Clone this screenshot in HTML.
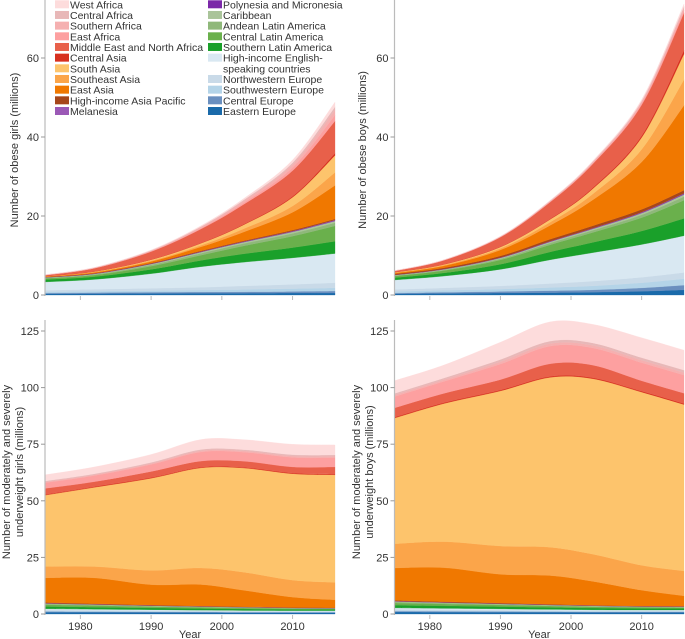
<!DOCTYPE html>
<html><head><meta charset="utf-8"><style>
html,body{margin:0;padding:0;background:#fff;}
svg{display:block;font-family:"Liberation Sans",sans-serif;}
</style></head><body>
<svg id="chart" width="685" height="639" viewBox="0 0 685 639" xmlns="http://www.w3.org/2000/svg"></svg>
<script>
const years = [1975,1982,1990,1997,2003,2010,2016];
const regions = ["Eastern Europe","Central Europe","Southwestern Europe","Northwestern Europe","High-income English-speaking countries","Southern Latin America","Central Latin America","Andean Latin America","Caribbean","Polynesia and Micronesia","Melanesia","High-income Asia Pacific","East Asia","Southeast Asia","South Asia","Central Asia","Middle East and North Africa","East Africa","Southern Africa","Central Africa","West Africa"];
const colors = ["#1a6aaa","#6a8fbf","#b4d4e8","#c9dae8","#d9e8f2","#1aa02a","#6ab04c","#8fb87a","#aac49a","#7b28a8","#9b59b6","#a6461a","#f07800","#fba54a","#fdc46c","#d7301f","#e8604a","#fda0a0","#f5b0b0","#e8b8b8","#fddcdc"];
const obeseGirls = [
[.3,.35,.4,.45,.45,.5,.5],[.2,.25,.3,.3,.35,.4,.5],[.3,.35,.4,.5,.6,.7,.8],[.4,.5,.6,.7,.9,1.1,1.3],
[2.1,2.5,3.7,5.2,6.0,6.7,7.4],[.6,.7,1.1,1.6,2.1,2.6,3.1],[.3,.4,.8,1.3,2.0,2.9,3.9],[.15,.2,.35,.5,.6,.7,.8],
[.1,.12,.2,.3,.35,.4,.45],[.02,.03,.05,.07,.08,.1,.12],[.02,.03,.04,.05,.07,.09,.12],[.1,.12,.15,.2,.2,.25,.25],
[.1,.2,.4,1.0,2.2,4.5,8.5],[.05,.1,.2,.4,.8,1.6,3.3],[.05,.1,.25,.5,1.0,2.2,4.3],[.02,.03,.05,.1,.15,.25,.5],
[.2,.8,2.0,3.5,5.0,6.5,8.2],[.03,.05,.1,.2,.4,.8,1.5],[.05,.08,.15,.3,.5,.8,1.3],[.02,.03,.06,.12,.2,.4,.8],[.03,.05,.1,.2,.35,.7,1.2]];
const obeseBoys = [
[.3,.4,.5,.6,.7,.95,1.3],[.2,.3,.4,.5,.6,.85,1.2],[.4,.5,.6,.8,1.0,1.3,1.6],[.5,.6,.8,1.0,1.2,1.4,1.6],
[2.4,3.0,4.2,6.0,7.2,8.3,9.3],[.6,.8,1.3,2.0,2.6,3.4,4.4],[.4,.6,1.1,1.8,2.5,3.4,4.6],[.15,.2,.3,.45,.55,.7,.9],
[.1,.12,.2,.3,.35,.45,.55],[.03,.04,.06,.08,.1,.12,.15],[.02,.03,.05,.07,.08,.1,.12],[.25,.3,.4,.5,.6,.7,.8],
[.2,.5,1.5,3.5,6.5,12,21.5],[.1,.2,.4,.8,1.5,3.2,6.5],[.1,.15,.35,.7,1.3,3.0,6.5],[.03,.05,.08,.15,.25,.45,.9],
[.3,1.0,2.4,4.2,6.0,7.8,9.5],[.02,.04,.06,.12,.2,.4,.7],[.03,.05,.08,.15,.25,.4,.6],[.01,.02,.04,.08,.12,.2,.35],[.02,.04,.07,.12,.2,.35,.6]];
const underGirls = [
[.8,.75,.7,.65,.6,.6,.6],[.3,.28,.25,.23,.22,.2,.2],[.3,.28,.25,.23,.22,.2,.2],[.4,.35,.3,.25,.22,.2,.2],
[.5,.45,.4,.35,.3,.3,.3],[1.0,.9,.8,.7,.65,.55,.5],[.8,.7,.55,.5,.45,.35,.3],[.4,.35,.3,.28,.25,.2,.2],
[.2,.18,.15,.13,.12,.1,.1],[.02,.02,.02,.02,.02,.02,.02],[.05,.05,.05,.05,.05,.05,.05],[.3,.25,.2,.15,.12,.1,.1],
[10.9,11.4,9.0,9.5,7.3,4.6,3.5],[5,5,6.3,7.3,8,7.5,7.7],[31.5,35,40.7,44.2,46,47,47.5],[.3,.3,.3,.3,.3,.3,.3],
[2.7,2.2,2.7,2.7,2.7,2.7,3.2],[2.5,2.7,3.1,4.0,4.0,4.2,4.1],[.4,.4,.45,.55,.55,.6,.6],[.4,.4,.45,.55,.55,.6,.6],[2.7,3.0,3.5,4.4,4.4,4.6,4.4]];
const underBoys = [
[.9,.85,.8,.75,.7,.7,.7],[.35,.33,.3,.28,.26,.25,.25],[.35,.33,.3,.28,.26,.25,.25],[.5,.42,.36,.3,.26,.24,.24],
[.6,.55,.5,.42,.36,.35,.35],[1.2,1.1,1.0,.9,.8,.7,.65],[.95,.85,.7,.6,.55,.45,.4],[.5,.42,.36,.33,.3,.25,.25],
[.25,.22,.18,.16,.15,.12,.12],[.03,.03,.03,.03,.03,.03,.03],[.06,.06,.06,.06,.06,.06,.06],[.35,.3,.25,.2,.15,.12,.12],
[14.3,15.0,12.7,12.7,10.6,7.0,4.6],[10.7,11.5,12.5,12.5,12,11,11],[55.5,61,68.5,75,77.5,76.5,73.5],[.4,.4,.4,.4,.4,.4,.4],
[4.1,4.1,4.6,5.6,5.6,4.6,4.6],[5.0,5.3,6.9,7.8,7.6,8.0,8.0],[.7,.75,1.0,1.1,1.1,1.1,1.1],[.7,.75,1.0,1.1,1.1,1.1,1.1],[5.6,5.7,7.6,8.5,8.2,8.8,8.8]];
const obeseTicks = [0,20,40,60];
const underTicks = [0,25,50,75,100,125];
const yearTicks = [1980,1990,2000,2010];

const NS="http://www.w3.org/2000/svg";
const svg=document.getElementById('chart');
function mk(tag,attrs,parent){const e=document.createElementNS(NS,tag);for(const k in attrs)e.setAttribute(k,attrs[k]);(parent||svg).appendChild(e);return e;}

// Catmull-Rom spline through points (smooth)
function curveFwd(xs,ys){
  const n=xs.length;let s='';
  for(let i=0;i<n-1;i++){
    const x0=xs[Math.max(i-1,0)],y0=ys[Math.max(i-1,0)];
    const x1=xs[i],y1=ys[i],x2=xs[i+1],y2=ys[i+1];
    const x3=xs[Math.min(i+2,n-1)],y3=ys[Math.min(i+2,n-1)];
    const c1x=x1+(x2-x0)/6,c1y=y1+(y2-y0)/6,c2x=x2-(x3-x1)/6,c2y=y2-(y3-y1)/6;
    s+=`C${c1x.toFixed(2)},${c1y.toFixed(2)},${c2x.toFixed(2)},${c2y.toFixed(2)},${x2.toFixed(2)},${y2.toFixed(2)}`;
  }
  return s;
}

function panel(p){
  const g=mk('g',{});
  
  
  const xS=y=>p.x0+(y-1975)*(p.x1-p.x0)/(2016-1975);
  const yS=v=>p.y0-v*p.k;
  const xs=years.map(xS);
  let cum=years.map(()=>0);
  p.data.forEach((row,i)=>{
    const lo=cum.slice();const hi=cum.map((c,j)=>c+row[j]);
    const loY=lo.map(yS),hiY=hi.map(yS);
    const rx=xs.slice().reverse(),rlo=loY.slice().reverse();
    const d=`M${xs[0]},${hiY[0]}`+curveFwd(xs,hiY)+`L${rx[0]},${rlo[0]}`+curveFwd(rx,rlo)+'Z';
    const a=mk('path',{d:d,fill:colors[i],stroke:colors[i],'stroke-width':0.3},g);
    
    
    cum=hi;
  });
  const ax=mk('g',{},g);
  
  
  mk('line',{x1:p.x0,x2:p.x0,y1:p.top,y2:p.y0+1,stroke:'#bbb','stroke-width':1.2},ax);
  p.ticks.forEach(t=>{
    mk('line',{x1:p.x0-4,x2:p.x0,y1:yS(t),y2:yS(t),stroke:'#999'},ax);
    const tx=mk('text',{x:p.x0-6,y:yS(t)+4,'text-anchor':'end','font-size':11,fill:'#333'},ax);
    tx.textContent=t;
  });
  const xa=mk('g',{},g);
  
  
  yearTicks.forEach(t=>{
    mk('line',{x1:xS(t),x2:xS(t),y1:p.y0+1,y2:p.y0+5,stroke:'#bbb'},xa);
    if(p.labels){const tx=mk('text',{x:xS(t),y:p.y0+16,'text-anchor':'middle','font-size':11,fill:'#333'},xa);tx.textContent=t;}
  });
  if(p.labels){const tx=mk('text',{x:(p.x0+p.x1)/2,y:638,'text-anchor':'middle','font-size':11,fill:'#333'},xa);tx.textContent='Year';
    }
  const tt=mk('text',{transform:`translate(${p.tx},${p.ty}) rotate(-90)`,'text-anchor':'middle','font-size':11,fill:'#333'},g);
  
  
  p.title.forEach((line,i)=>{const ts=mk('tspan',{x:0,dy:i?13:0},tt);ts.textContent=line;});
}
panel({name:'obese-girls-panel',data:obeseGirls,x0:45,x1:335,y0:295,k:3.95,top:0,ticks:obeseTicks,labels:false,tx:18,ty:150,title:['Number of obese girls (millions)']});
panel({name:'obese-boys-panel',data:obeseBoys,x0:394.5,x1:684,y0:295,k:3.95,top:0,ticks:obeseTicks,labels:false,tx:366,ty:150,title:['Number of obese boys (millions)']});
panel({name:'underweight-girls-panel',data:underGirls,x0:45,x1:335,y0:614,k:2.264,top:320,ticks:underTicks,labels:true,tx:10,ty:472,title:['Number of moderately and severely','underweight girls (millions)']});
panel({name:'underweight-boys-panel',data:underBoys,x0:394.5,x1:684,y0:614,k:2.264,top:320,ticks:underTicks,labels:true,tx:360,ty:472,title:['Number of moderately and severely','underweight boys (millions)']});

const leg=mk('g',{});


const leftCol=[20,19,18,17,16,15,14,13,12,11,10];
const rightCol=[9,8,7,6,5,4,3,2,1,0];
function entry(idx,x,row,lines){
  const e=mk('g',{},leg);
  
  
  const y=4.3+row*10.67;
  mk('rect',{x:x,y:y-4,width:14,height:8,fill:colors[idx]},e);
  lines.forEach((l,i)=>{const t=mk('text',{x:x+15,y:y+4+i*10.67,'font-size':10.5,fill:'#333'},e);t.textContent=l;});
}
leftCol.forEach((idx,r)=>entry(idx,55,r,[regions[idx]]));
let row=0;
rightCol.forEach(idx=>{
  if(idx===4){entry(idx,208,row,['High-income English-','speaking countries']);row+=2;}
  else{entry(idx,208,row,[regions[idx]]);row++;}
});
</script>
</body></html>
